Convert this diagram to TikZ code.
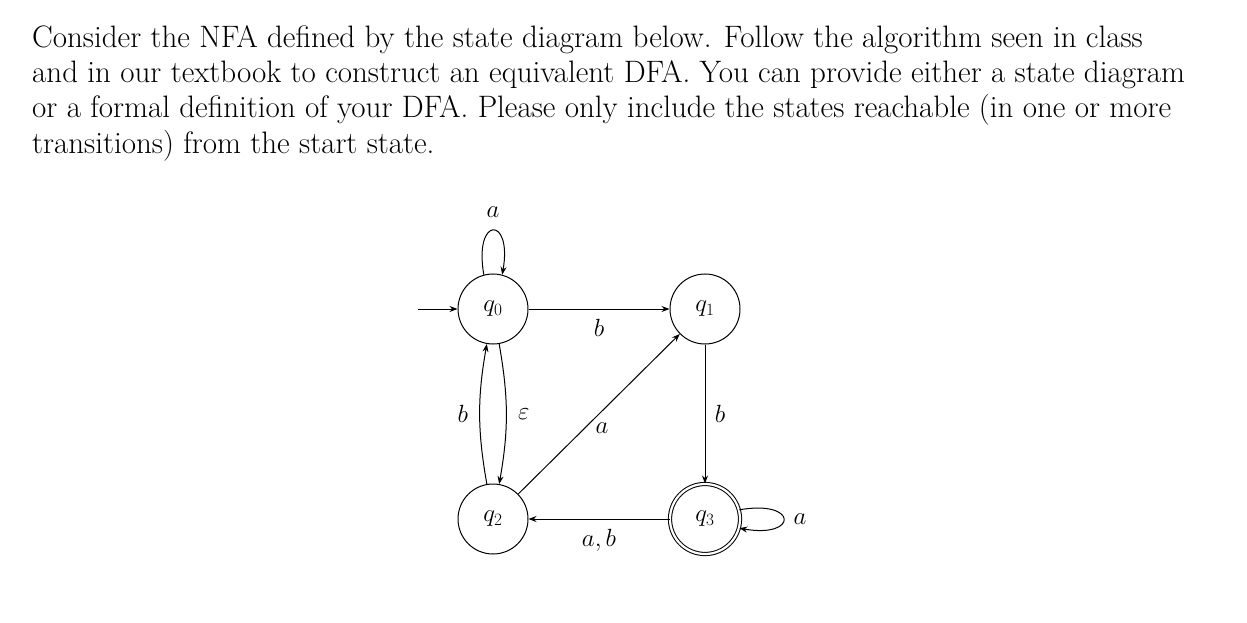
\documentclass[tikz,border=0pt]{standalone}
\usetikzlibrary{arrows.meta}
\begin{document}
\begin{tikzpicture}[x=1pt,y=1pt,
  st/.style={circle,draw,line width=1pt,minimum size=70pt,inner sep=0pt,font=\fontsize{25}{25}\selectfont},
  acc/.style={st,double,double distance=2.2pt},
  tr/.style={draw,line width=1pt,-{Stealth[length=8pt,width=6pt]}},
  lb/.style={font=\fontsize{26}{26}\selectfont}]
\useasboundingbox (0,0) rectangle (1247,622);
\node[anchor=north west,inner sep=0pt,align=left,font=\fontsize{31}{35.3}\selectfont] (txt) at (32,597)
{Consider the NFA defined by the state diagram below. Follow the algorithm seen in class\\
and in our textbook to construct an equivalent DFA. You can provide either a state diagram\\
or a formal definition of your DFA. Please only include the states reachable (in one or more\\
transitions) from the start state.};
\node[st] (q0) at (493,313) {$q_0$};
\node[st] (q1) at (705,313) {$q_1$};
\node[st] (q2) at (493,103) {$q_2$};
\node[acc] (q3) at (705,103) {$q_3$};
\coordinate (s) at (418,313);
\draw[tr] (s) -- (q0);
\draw[tr] (q0) -- node[lb,below=6pt]{$b$} (q1);
\draw[tr] (q1) -- node[lb,right=6pt]{$b$} (q3);
\draw[tr] (q3) -- node[lb,below=6pt]{$a,b$} (q2);
\draw[tr] (q2) -- node[lb,pos=0.5,anchor=north west,inner sep=2pt,yshift=-6pt,xshift=-6pt]{$a$} (q1);
\draw[tr] (q0) to[bend left=10] node[lb,right=8pt]{$\varepsilon$} (q2);
\draw[tr] (q2) to[bend left=10] node[lb,left=8pt]{$b$} (q0);
\draw[tr] (q0.105) .. controls +(100:60) and +(80:60) .. (q0.75);
\node[lb] (la) at (493,410) {$a$};
\draw[tr] (q3.15) .. controls +(10:60) and +(-10:60) .. (q3.-15);
\node[lb] (lc) at (800,103) {$a$};
\end{tikzpicture}
\end{document}
